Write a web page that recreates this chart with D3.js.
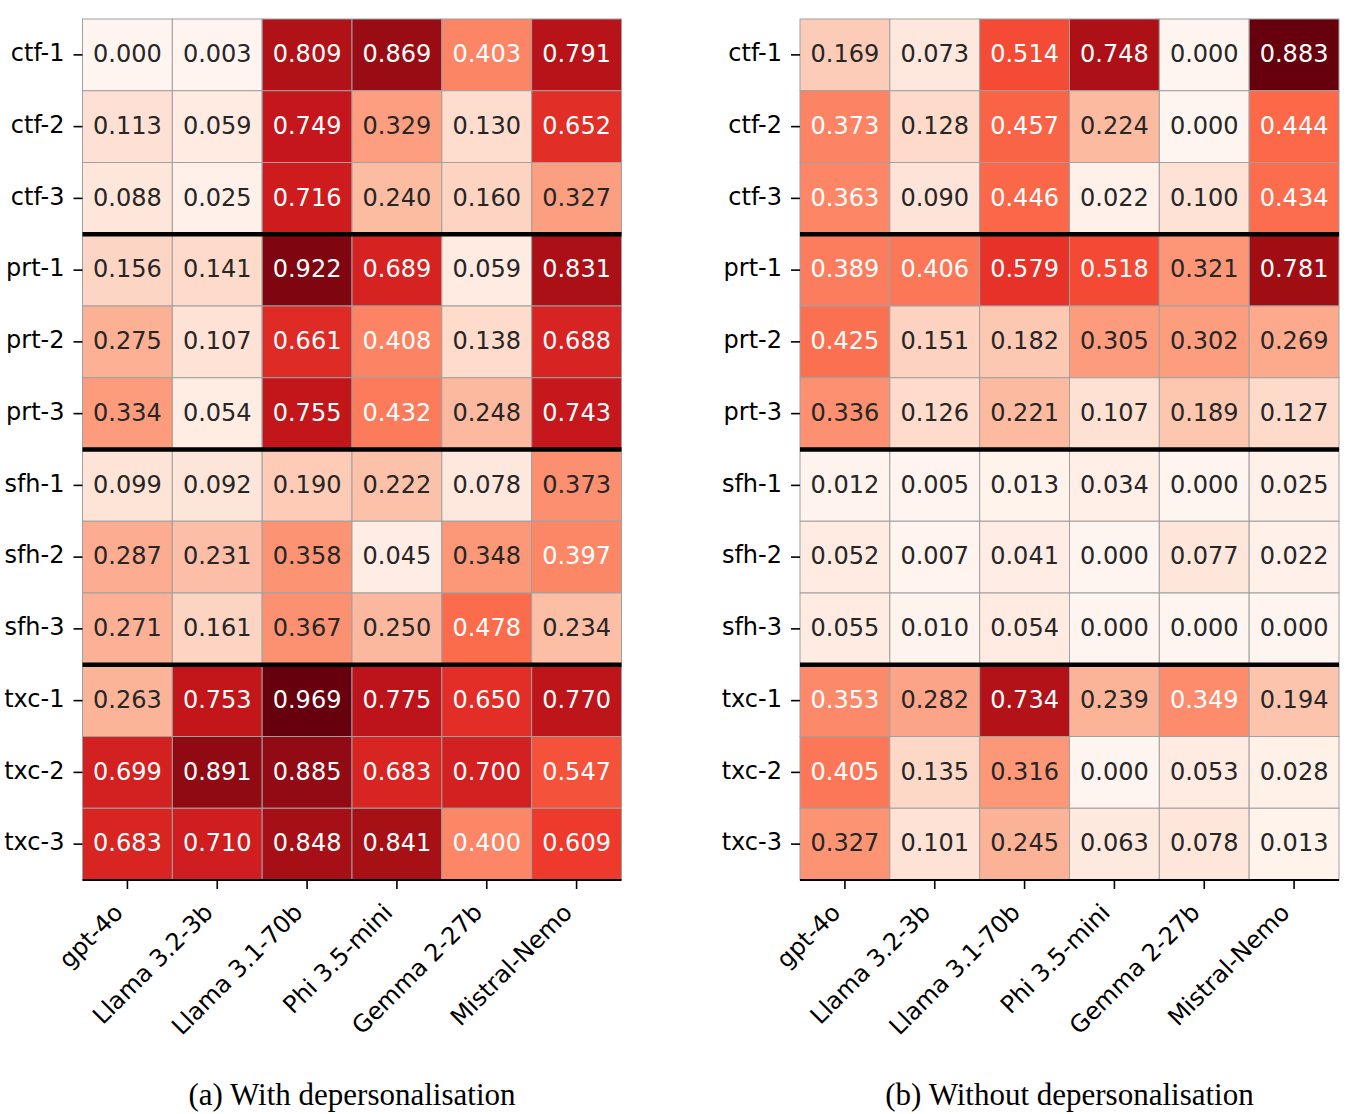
<!DOCTYPE html>
<html>
<head>
<meta charset="utf-8">
<script src="https://cdn.jsdelivr.net/npm/d3@7"></script>
<style>
  body { margin: 0; background: #fff; }
  svg text { font-family: "DejaVu Sans", sans-serif; }
</style>
</head>
<body>
<svg id="chart" width="1360" height="1114"></svg>
<script>
// Row and column labels
var tasks = ["ctf-1", "ctf-2", "ctf-3", "prt-1", "prt-2", "prt-3",
             "sfh-1", "sfh-2", "sfh-3", "txc-1", "txc-2", "txc-3"];
var models = ["gpt-4o", "Llama 3.2-3b", "Llama 3.1-70b", "Phi 3.5-mini", "Gemma 2-27b", "Mistral-Nemo"];

// (a) With depersonalisation
var withDep = [
    [0.000, 0.003, 0.809, 0.869, 0.403, 0.791],
    [0.113, 0.059, 0.749, 0.329, 0.130, 0.652],
    [0.088, 0.025, 0.716, 0.240, 0.160, 0.327],
    [0.156, 0.141, 0.922, 0.689, 0.059, 0.831],
    [0.275, 0.107, 0.661, 0.408, 0.138, 0.688],
    [0.334, 0.054, 0.755, 0.432, 0.248, 0.743],
    [0.099, 0.092, 0.190, 0.222, 0.078, 0.373],
    [0.287, 0.231, 0.358, 0.045, 0.348, 0.397],
    [0.271, 0.161, 0.367, 0.250, 0.478, 0.234],
    [0.263, 0.753, 0.969, 0.775, 0.650, 0.770],
    [0.699, 0.891, 0.885, 0.683, 0.700, 0.547],
    [0.683, 0.710, 0.848, 0.841, 0.400, 0.609]
];

// (b) Without depersonalisation
var withoutDep = [
    [0.169, 0.073, 0.514, 0.748, 0.000, 0.883],
    [0.373, 0.128, 0.457, 0.224, 0.000, 0.444],
    [0.363, 0.090, 0.446, 0.022, 0.100, 0.434],
    [0.389, 0.406, 0.579, 0.518, 0.321, 0.781],
    [0.425, 0.151, 0.182, 0.305, 0.302, 0.269],
    [0.336, 0.126, 0.221, 0.107, 0.189, 0.127],
    [0.012, 0.005, 0.013, 0.034, 0.000, 0.025],
    [0.052, 0.007, 0.041, 0.000, 0.077, 0.022],
    [0.055, 0.010, 0.054, 0.000, 0.000, 0.000],
    [0.353, 0.282, 0.734, 0.239, 0.349, 0.194],
    [0.405, 0.135, 0.316, 0.000, 0.053, 0.028],
    [0.327, 0.101, 0.245, 0.063, 0.078, 0.013]
];

// rows after which a thick separator is drawn
var groupBreaks = ["ctf-3", "prt-3", "sfh-3"];

// matplotlib "Reds" (ColorBrewer 9 class, linear)
var redsStops = ["#fff5f0", "#fee0d2", "#fcbba1", "#fc9272", "#fb6a4a",
                 "#ef3b2c", "#cb181d", "#a50f15", "#67000d"];

var fontSize = 24;
var plotTop = 19, plotH = 861, plotW = 539;

var svg = d3.select("#chart");

function luminance(c) {
    var rgb = d3.rgb(c);
    var ch = [rgb.r, rgb.g, rgb.b].map(function (v) {
        v = v / 255;
        return v <= 0.03928 ? v / 12.92 : Math.pow((v + 0.055) / 1.055, 2.4);
    });
    return 0.2126 * ch[0] + 0.7152 * ch[1] + 0.0722 * ch[2];
}

function drawHeatmap(left, data, caption) {

    var g = svg.append("g");

    var x = d3.scaleBand().domain(models).range([left, left + plotW]);
    var y = d3.scaleBand().domain(tasks).range([plotTop, plotTop + plotH]);

    var flat = [];
    data.forEach(function (row, i) {
        row.forEach(function (v, j) {
            flat.push({ task: tasks[i], model: models[j], value: v });
        });
    });

    var vmin = d3.min(flat, function (d) { return d.value; });
    var vmax = d3.max(flat, function (d) { return d.value; });
    var colour = d3.scaleLinear()
        .domain(redsStops.map(function (s, i) { return vmin + (vmax - vmin) * i / (redsStops.length - 1); }))
        .range(redsStops)
        .interpolate(d3.interpolateRgb);

    g.selectAll("rect.cell")
        .data(flat)
        .enter().append("rect")
        .attr("class", "cell")
        .attr("x", function (d) { return x(d.model); })
        .attr("y", function (d) { return y(d.task); })
        .attr("width", x.bandwidth())
        .attr("height", y.bandwidth())
        .attr("fill", function (d) { return colour(d.value); })
        .attr("stroke", "#a0a0a0")
        .attr("stroke-width", 1);

    g.selectAll("text.annot")
        .data(flat)
        .enter().append("text")
        .attr("class", "annot")
        .attr("x", function (d) { return x(d.model) + x.bandwidth() / 2; })
        .attr("y", function (d) { return y(d.task) + y.bandwidth() / 2; })
        .attr("dy", "0.3em")
        .attr("text-anchor", "middle")
        .style("font-size", fontSize + "px")
        .attr("fill", function (d) { return luminance(colour(d.value)) > 0.408 ? "#262626" : "#ffffff"; })
        .text(function (d) { return d.value.toFixed(3); });

    //Group separators
    g.selectAll("line.sep")
        .data(groupBreaks)
        .enter().append("line")
        .attr("x1", left).attr("x2", left + plotW)
        .attr("y1", function (d) { return y(d) + y.bandwidth(); })
        .attr("y2", function (d) { return y(d) + y.bandwidth(); })
        .attr("stroke", "#000").attr("stroke-width", 4.5);

    //Bottom spine
    g.append("line")
        .attr("x1", left).attr("x2", left + plotW)
        .attr("y1", plotTop + plotH).attr("y2", plotTop + plotH)
        .attr("stroke", "#000").attr("stroke-width", 2);

    //Y axis
    var yAxis = g.append("g")
        .attr("transform", "translate(" + left + ",0)")
        .call(d3.axisLeft(y).tickSize(9).tickPadding(9));
    yAxis.select(".domain").remove();
    yAxis.selectAll(".tick line").attr("stroke", "#000").attr("stroke-width", 1.6);
    yAxis.selectAll(".tick text")
        .style("font-family", "DejaVu Sans")
        .style("font-size", fontSize + "px")
        .attr("dy", "0.26em")
        .attr("fill", "#000");

    //X axis
    var xAxis = g.append("g")
        .attr("transform", "translate(0," + (plotTop + plotH) + ")")
        .call(d3.axisBottom(x).tickSize(9).tickPadding(0));
    xAxis.select(".domain").remove();
    xAxis.selectAll(".tick line").attr("stroke", "#000").attr("stroke-width", 1.6);
    xAxis.selectAll(".tick text")
        .style("font-family", "DejaVu Sans")
        .style("font-size", fontSize + "px")
        .attr("fill", "#000")
        .attr("text-anchor", "end")
        .attr("dy", null)
        .attr("y", 0)
        .attr("transform", "translate(-3,34) rotate(-45)");

    //Caption
    svg.append("text")
        .attr("x", left + plotW / 2)
        .attr("y", 1105)
        .attr("text-anchor", "middle")
        .style("font-family", "Liberation Serif, serif")
        .style("font-size", "31px")
        .attr("fill", "#000")
        .text(caption);
}

drawHeatmap(82.5, withDep, "(a) With depersonalisation");
drawHeatmap(800, withoutDep, "(b) Without depersonalisation");
</script>
</body>
</html>
